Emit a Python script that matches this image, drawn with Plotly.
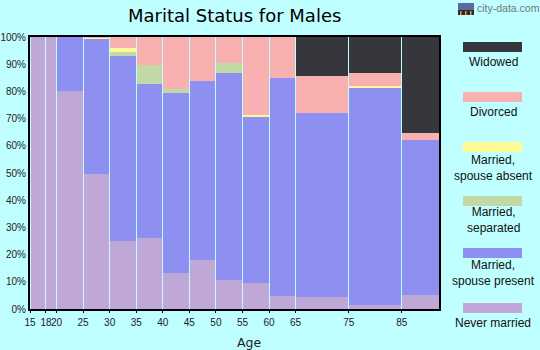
import plotly.graph_objects as go

# ---- data ----
age_edges = [15, 18, 20, 25, 30, 35, 40, 45, 50, 55, 60, 65, 75, 85, 92]
tick_ages = [15, 18, 20, 25, 30, 35, 40, 45, 50, 55, 60, 65, 75, 85]

never_married = [100, 100, 80, 49.7, 25.1, 26.2, 13.3, 18.2, 10.8, 9.7, 4.9, 4.5, 1.6, 5.3]
spouse_present = [0, 0, 20, 49.6, 68.0, 56.6, 66.0, 65.7, 76.1, 61.0, 80.1, 67.7, 79.8, 56.9]
separated = [0, 0, 0, 0, 1.5, 7.0, 1.7, 0, 3.7, 0, 0, 0, 0, 0]
spouse_absent = [0, 0, 0, 0.4, 1.5, 0, 0, 0, 0, 0.7, 0, 0, 0.7, 0]
divorced = [0, 0, 0, 0.3, 3.9, 10.2, 19.0, 16.1, 9.4, 28.6, 15.0, 13.6, 4.8, 2.6]
widowed = [0, 0, 0, 0, 0, 0, 0, 0, 0, 0, 0, 14.2, 13.1, 35.2]

series = [
    ("Never married", never_married, "#bfa8d8", "Never married"),
    ("Married, spouse present", spouse_present, "#8d8ff1", "Married,<br>spouse present"),
    ("Married, separated", separated, "#c2d9a6", "Married,<br>separated"),
    ("Married, spouse absent", spouse_absent, "#fffa96", "Married,<br>spouse absent"),
    ("Divorced", divorced, "#f9b0b0", "Divorced"),
    ("Widowed", widowed, "#36373c", "Widowed"),
]

BG = "#bfffff"
W, H = 540, 350
ML, MR, MT, MB = 30, 101, 37, 41

mids = [(a + b) / 2 for a, b in zip(age_edges[:-1], age_edges[1:])]
gap = 0.19
widths = [(b - a) - gap for a, b in zip(age_edges[:-1], age_edges[1:])]

fig = go.Figure()
for name, vals, color, _ in series:
    fig.add_trace(go.Bar(
        x=mids, y=vals, width=widths, name=name,
        marker=dict(color=color, line=dict(width=0)),
        showlegend=False, hoverinfo="name+y",
    ))


def px_x(p):
    return (p - ML) / (W - ML - MR)


def px_y(p):
    return 1 - (p - MT) / (H - MT - MB)


shapes = []
annotations = []
# legend (manual: swatch above label)
legend_items = [
    ("Widowed", 42, 62),
    ("Divorced", 92, 112),
    ("Married,<br>spouse absent", 142, 168),
    ("Married,<br>separated", 196, 220),
    ("Married,<br>spouse present", 248, 273),
    ("Never married", 303, 323),
]
color_of = {s[3]: s[2] for s in series}
for label, ytop, ylab in legend_items:
    shapes.append(dict(type="rect", xref="paper", yref="paper",
                       x0=px_x(463), x1=px_x(522), y0=px_y(ytop + 10), y1=px_y(ytop),
                       fillcolor=color_of[label], line=dict(width=0), layer="above"))
    annotations.append(dict(xref="paper", yref="paper", x=px_x(493), y=px_y(ylab),
                            text=label, showarrow=False, xanchor="center", yanchor="middle",
                            font=dict(family="Liberation Sans, Arial", size=12, color="#111111"),
                            align="center"))

# title
annotations.append(dict(xref="paper", yref="paper", x=px_x(234.5), y=px_y(15),
                        text="Marital Status for Males", showarrow=False,
                        xanchor="center", yanchor="middle",
                        font=dict(family="DejaVu Sans, Verdana", size=18, color="#000000")))
# axis title
annotations.append(dict(xref="paper", yref="paper", x=px_x(248.5), y=px_y(342),
                        text="Age", showarrow=False, xanchor="center", yanchor="middle",
                        font=dict(family="DejaVu Sans, Verdana", size=12.5, color="#222222")))
# watermark
annotations.append(dict(xref="paper", yref="paper", x=px_x(476), y=px_y(8),
                        text="city-data.com", showarrow=False, xanchor="left", yanchor="middle",
                        borderpad=0,
                        font=dict(family="Liberation Sans, Arial", size=10.5, color="#707878")))
shapes.append(dict(type="rect", xref="paper", yref="paper",
                   x0=px_x(458), x1=px_x(474), y0=px_y(15), y1=px_y(3),
                   fillcolor="#5a6aa0", line=dict(width=0)))
shapes.append(dict(type="rect", xref="paper", yref="paper",
                   x0=px_x(458), x1=px_x(474), y0=px_y(15), y1=px_y(10),
                   fillcolor="#2a2a30", line=dict(width=0)))
for bx in (460, 465, 470):
    shapes.append(dict(type="rect", xref="paper", yref="paper",
                       x0=px_x(bx), x1=px_x(bx + 1.5), y0=px_y(15), y1=px_y(11),
                       fillcolor="#d0a040", line=dict(width=0)))

fig.update_layout(
    width=W, height=H,
    margin=dict(l=ML, r=MR, t=MT, b=MB),
    paper_bgcolor=BG, plot_bgcolor=BG,
    barmode="stack", bargap=0,
    template="none",
    shapes=shapes, annotations=annotations,
    showlegend=False,
)
tickfont = dict(family="Liberation Sans, Arial", size=10, color="#222222")
fig.update_xaxes(
    range=[age_edges[0], age_edges[-1]], tickvals=tick_ages,
    ticktext=[str(t) for t in tick_ages], tickangle=0,
    showgrid=False, zeroline=False, showline=True, linecolor="black", linewidth=2,
    mirror=True, ticks="outside", ticklen=2, tickcolor="black", ticklabelstandoff=1,
    tickfont=tickfont,
)
fig.update_yaxes(
    range=[0, 100], tickvals=list(range(0, 101, 10)),
    ticktext=[f"{v}%" for v in range(0, 101, 10)],
    showgrid=False, zeroline=False, showline=True, linecolor="black", linewidth=2,
    mirror=True, ticks="", ticklabelstandoff=0,
    tickfont=tickfont,
)

fig.write_html("out.html")
